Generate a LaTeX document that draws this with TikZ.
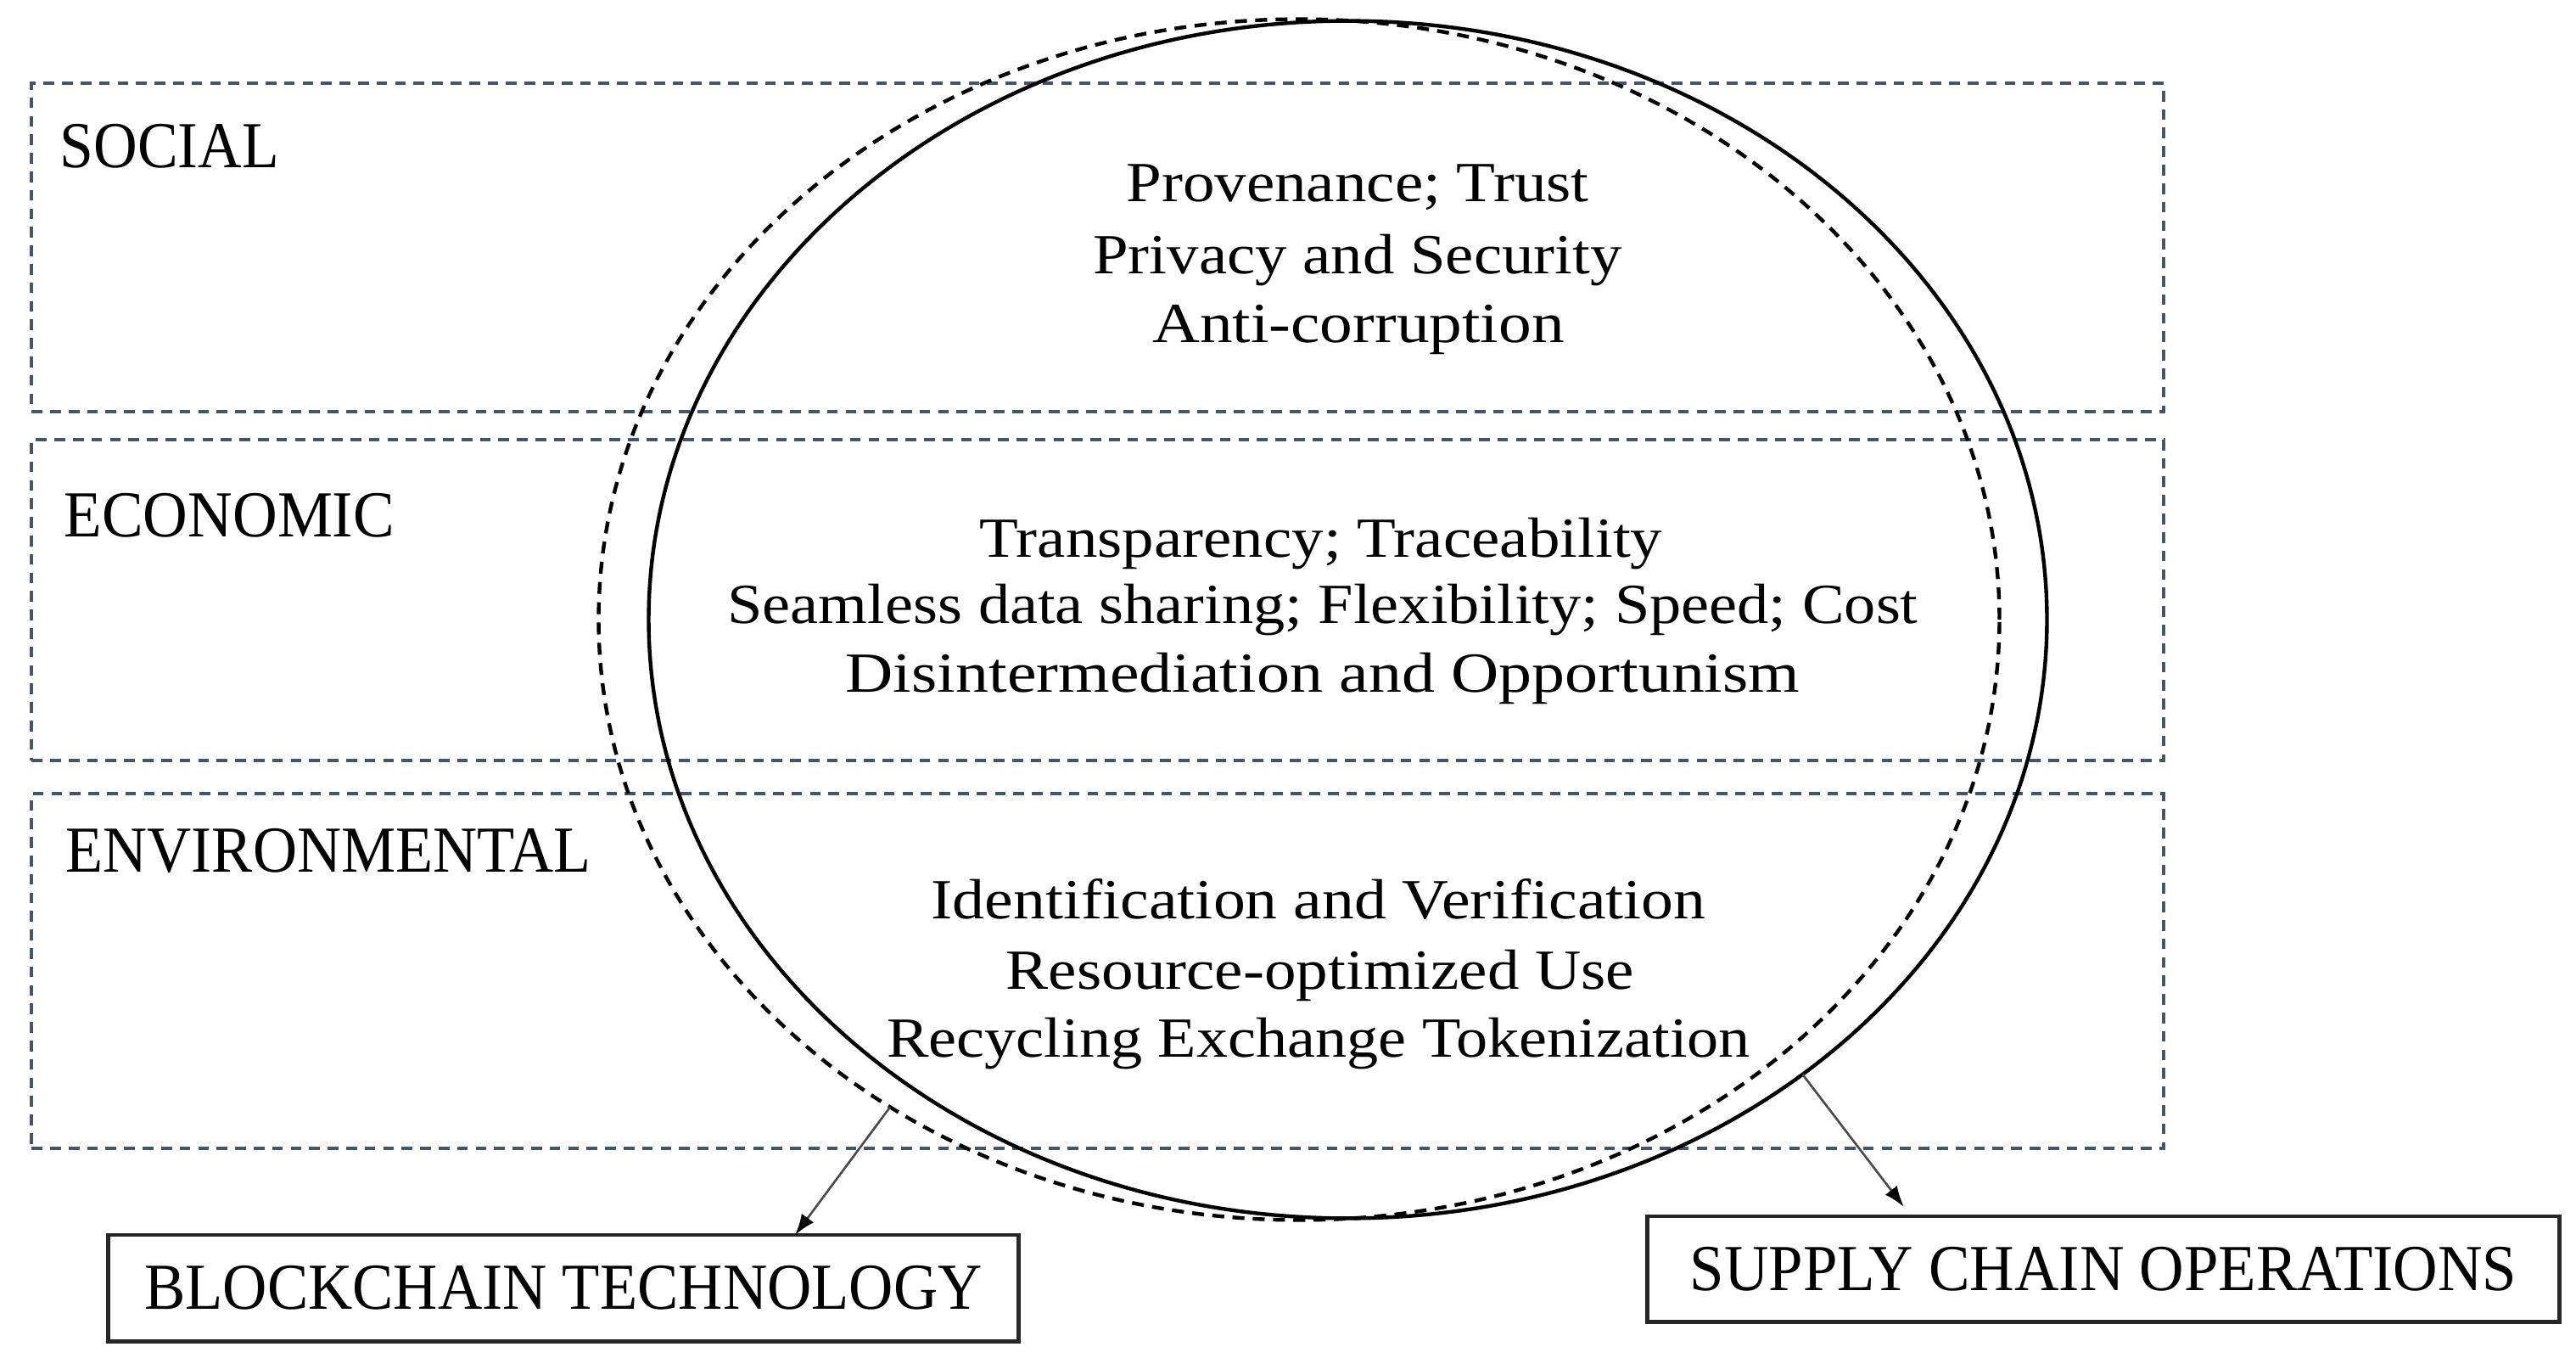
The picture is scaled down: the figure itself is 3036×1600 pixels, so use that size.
\documentclass[tikz,border=0pt]{standalone}
\usepackage{fontspec}
\setmainfont{Liberation Serif}
\usetikzlibrary{shapes.geometric,arrows.meta}
\definecolor{zonec}{HTML}{44546A}
\definecolor{arrc}{HTML}{4A4A4A}
\newcommand\fitw[2]{\resizebox{#1}{\height}{#2}}
\begin{document}
\begin{tikzpicture}[x=0.01cm,y=-0.01cm,
  zone/.style={draw=zonec, line width=1.1pt, dash pattern=on 3.6pt off 2.6pt,
    minimum width=25.11cm, inner sep=0pt, outer sep=0pt},
  solidring/.style={ellipse, draw=black, line width=1.25pt, inner sep=0pt, outer sep=0pt},
  dashring/.style={ellipse, draw=black, line width=1.25pt, dash pattern=on 4pt off 2.8pt,
    inner sep=0pt, outer sep=0pt},
  item/.style={anchor=base, inner sep=0pt, font=\fontsize{19}{19}\selectfont},
  dimlabel/.style={anchor=base west, inner sep=0pt, font=\fontsize{22}{22}\selectfont},
  outbox/.style={draw=black!85, line width=1.4pt, inner sep=0pt, outer sep=0pt,
    font=\fontsize{22}{22}\selectfont},
  pointer/.style={draw=arrc, line width=0.75pt, -{Latex[length=7pt,width=5pt,color=black]}}
]
\fill[white] (0,0) rectangle (3036,1600);
\useasboundingbox (0,0) rectangle (3036,1600);

% dimension bands
\node[zone, minimum height=3.87cm] (social) at (1293.5,291.5) {};
\node[zone, minimum height=3.78cm] (economic) at (1293.5,707) {};
\node[zone, minimum height=4.18cm] (environmental) at (1293.5,1144) {};

% rings
\node[dashring, minimum width=16.50cm, minimum height=14.14cm] (bt) at (1531,730) {};
\node[solidring, minimum width=16.47cm, minimum height=14.10cm] (sc) at (1588.5,730) {};

% band labels
\node[dimlabel] (lsoc) at (70,198) {\fitw{2.58cm}{SOCIAL}};
\node[dimlabel] (leco) at (75,632) {\fitw{3.89cm}{ECONOMIC}};
\node[dimlabel] (lenv) at (77,1027) {\fitw{6.19cm}{ENVIRONMENTAL}};

% social items
\node[item] (s1) at (1600,238) {\fitw{5.45cm}{Provenance; Trust}};
\node[item] (s2) at (1600,323) {\fitw{6.23cm}{Privacy and Security}};
\node[item] (s3) at (1601,403) {\fitw{4.85cm}{Anti-corruption}};

% economic items
\node[item] (e1) at (1557,656) {\fitw{8.04cm}{Transparency; Traceability}};
\node[item] (e2) at (1559,734) {\fitw{14.02cm}{Seamless data sharing; Flexibility; Speed; Cost}};
\node[item] (e3) at (1559,815) {\fitw{11.24cm}{Disintermediation and Opportunism}};

% environmental items
\node[item] (v1) at (1554,1082) {\fitw{9.12cm}{Identification and Verification}};
\node[item] (v2) at (1556,1165) {\fitw{7.40cm}{Resource-optimized Use}};
\node[item] (v3) at (1554,1245) {\fitw{10.17cm}{Recycling Exchange Tokenization}};

% output boxes
\node[outbox, minimum width=10.72cm, minimum height=1.25cm] (btbox) at (664,1517.5)
  {\fitw{9.87cm}{BLOCKCHAIN TECHNOLOGY}};
\node[outbox, minimum width=10.74cm, minimum height=1.24cm] (scbox) at (2479,1495)
  {\fitw{9.74cm}{SUPPLY CHAIN OPERATIONS}};

% connectors
\draw[pointer] (bt.230.1) -- ([xshift=2.73cm]btbox.north);
\draw[pointer] (sc.315) -- ([xshift=-2.35cm,yshift=0.11cm]scbox.north);
\end{tikzpicture}
\end{document}
